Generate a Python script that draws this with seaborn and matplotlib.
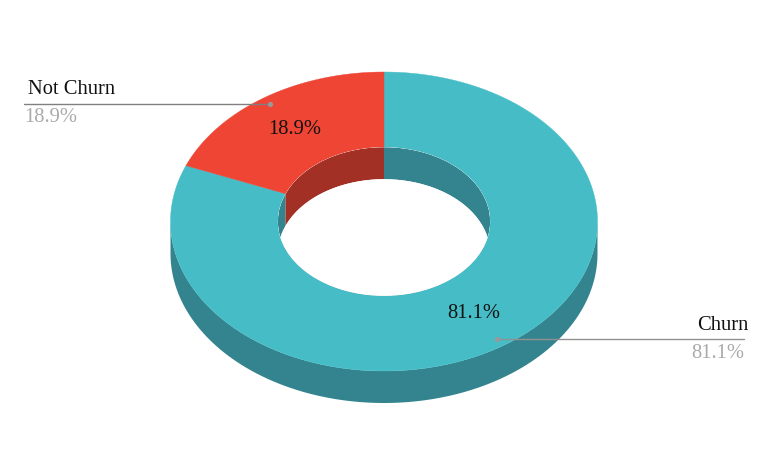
import numpy as np
import matplotlib.pyplot as plt
import seaborn as sns
from matplotlib.patches import Polygon, Ellipse

# --- Data ---
labels = ["Churn", "Not Churn"]
shares = [81.1, 18.9]
colors = ["#46BDC6", "#EE4535"]
wall_colors = ["#34848F", "#A33024"]

# --- Layout (pixels of the 768x475 picture) ---
CX, CY = 384, 221.5
RX, RY = 213.5, 149.5
HOLE = 0.497
DEPTH = 32

sns.set_theme(style="white")
plt.rcParams['font.family'] = ['Liberation Serif', 'DejaVu Serif']

def arc(t0, t1, rx, ry, dy=0):
    t = np.radians(np.linspace(t0, t1, 200))
    return np.column_stack([CX + rx*np.sin(t), CY + dy - ry*np.cos(t)])

fig = plt.figure(figsize=(7.68, 4.75), dpi=100)
ax = fig.add_axes([0, 0, 1, 1])
ax.set_xlim(0, 768); ax.set_ylim(475, 0); ax.axis('off')

edges = np.concatenate([[0], np.cumsum(shares)]) / sum(shares) * 360

# outer wall, only the front half shows
front = np.vstack([arc(90, 270, RX, RY), arc(270, 90, RX, RY, DEPTH)])
ax.add_patch(Polygon(front, fc=wall_colors[0], ec='none', zorder=1))

# top surface
for i in range(len(shares)):
    ring = np.vstack([arc(edges[i], edges[i+1], RX, RY), arc(edges[i+1], edges[i], RX*HOLE, RY*HOLE)])
    ax.add_patch(Polygon(ring, fc=colors[i], ec=colors[i], lw=0.3, zorder=2))

# hole and the far inner wall, clipped to the hole
hole = Ellipse((CX, CY), 2*RX*HOLE, 2*RY*HOLE, fc='white', ec='none', zorder=3)
ax.add_patch(hole)
for i in range(len(shares)):
    wall = np.vstack([arc(edges[i], edges[i+1], RX*HOLE, RY*HOLE), arc(edges[i+1], edges[i], RX*HOLE, RY*HOLE, DEPTH)])
    p = Polygon(wall, fc=wall_colors[i], ec='none', zorder=4)
    ax.add_patch(p)
    p.set_clip_path(hole)
sq = np.vstack([arc(90, 270, RX*HOLE, RY*HOLE, DEPTH), arc(270, 450, RX*HOLE, RY*HOLE, DEPTH)])
inner = Polygon(sq, fc='white', ec='none', zorder=5)
ax.add_patch(inner)
inner.set_clip_path(hole)

# leader lines
sns.lineplot(x=[24, 270], y=[103.5, 103.5], color='#808080', lw=1, ax=ax, zorder=6)
sns.lineplot(x=[497, 744], y=[339, 339], color='#909090', lw=1, ax=ax, zorder=6)
sns.scatterplot(x=[270, 497], y=[103.5, 339], color='#999999', s=14, linewidth=0, ax=ax, zorder=7)

# labels
fs = 14.8
ax.text(28, 89, labels[1], fontsize=fs, color='#111111', va='center', zorder=8)
ax.text(24, 118, f"{shares[1]}%", fontsize=fs, color='#AAAAAA', va='center', zorder=8)
ax.text(748, 325, labels[0], fontsize=fs, color='#111111', va='center', ha='right', zorder=8)
ax.text(744, 353, f"{shares[0]}%", fontsize=fs, color='#AAAAAA', va='center', ha='right', zorder=8)
ax.text(295, 129, f"{shares[1]}%", fontsize=fs, color='#111111', va='center', ha='center', zorder=8)
ax.text(473.5, 314, f"{shares[0]}%", fontsize=fs, color='#111111', va='center', ha='center', zorder=8)

fig.savefig("out.png", dpi=100, facecolor='white')
